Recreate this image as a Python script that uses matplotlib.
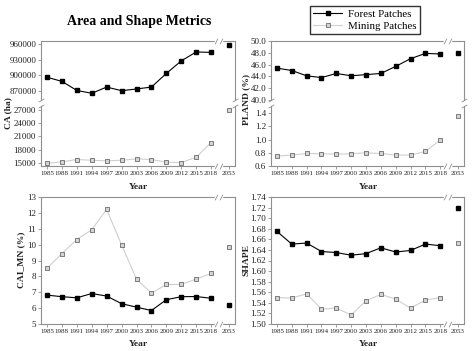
import matplotlib.pyplot as plt
import numpy as np

plt.rcParams["font.family"] = "serif"
plt.rcParams["font.serif"] = ["Liberation Serif", "DejaVu Serif"]

years = ["1985", "1988", "1991", "1994", "1997", "2000", "2003",
         "2006", "2009", "2012", "2015", "2018", "2053"]

ca_forest = [896000, 888000, 870500, 865000, 877000, 870000, 873300,
             877000, 903300, 927600, 944800, 944000, 958700]
ca_mining = [14920, 15230, 15770, 15600, 15460, 15600, 15920,
             15770, 15150, 15080, 16300, 19600, 27080]

pland_forest = [45.4, 45.0, 44.1, 43.8, 44.5, 44.1, 44.3,
                44.5, 45.7, 47.0, 47.9, 47.8, 47.9]
pland_mining = [0.75, 0.765, 0.79, 0.785, 0.78, 0.785, 0.80,
                0.79, 0.765, 0.765, 0.82, 0.995, 1.355]

cai_forest = [6.82, 6.72, 6.65, 6.92, 6.76, 6.28, 6.06,
              5.85, 6.53, 6.72, 6.73, 6.62, 6.22]
cai_mining = [8.51, 9.43, 10.32, 10.94, 12.22, 9.98, 7.83,
              6.94, 7.49, 7.49, 7.83, 8.19, 9.83]

shape_forest = [1.675, 1.651, 1.653, 1.637, 1.635, 1.630, 1.633,
                1.644, 1.636, 1.639, 1.651, 1.648, 1.719]
shape_mining = [1.550, 1.549, 1.557, 1.528, 1.530, 1.517, 1.544,
                1.556, 1.547, 1.530, 1.545, 1.550, 1.653]

W, H = 474, 351
GRAY = "#8f8f8f"
TXT = "#222222"
XPOS = np.r_[np.arange(12), 12.2]  # 2053 sits after the x break
XBREAK = 11.5
XLIM = (-0.4, 12.6)

fig = plt.figure(figsize=(W / 100, H / 100), dpi=100)


def px_axes(x0, y0, x1, y1):
    return fig.add_axes([x0 / W, 1 - y1 / H, (x1 - x0) / W, (y1 - y0) / H])


def style(ax, yticks, fmt):
    for s in ax.spines.values():
        s.set_color(GRAY)
        s.set_linewidth(0.8)
    ax.set_xlim(*XLIM)
    ax.set_yticks(yticks)
    ax.set_yticklabels([fmt.format(v) for v in yticks], fontsize=6.5, color=TXT)
    ax.tick_params(axis="both", direction="out", length=2, width=0.6,
                   color=GRAY, pad=1.5)
    ax.set_xticks(XPOS)
    ax.set_xticklabels(years, fontsize=5.0, color=TXT)


def draw_series(ax, forest, mining):
    ax.plot(XPOS[:-1], forest[:-1], color="black", lw=0.8, marker="s",
            ms=3.4, mfc="black", mec="black", zorder=3, label="Forest Patches")
    ax.plot(XPOS[-1:], forest[-1:], ls="none", marker="s", ms=3.4,
            mfc="black", mec="black", zorder=3)
    ax.plot(XPOS[:-1], mining[:-1], color="#cfcfcf", lw=0.8, marker="s",
            ms=3.4, mfc="#d4d4d4", mec="#6a6a6a", mew=0.6, zorder=3,
            label="Mining Patches")
    ax.plot(XPOS[-1:], mining[-1:], ls="none", marker="s", ms=3.4,
            mfc="#d4d4d4", mec="#6a6a6a", mew=0.6, zorder=3)


def xbreak(ax, yaxes):
    tr = ax.get_xaxis_transform()
    ax.plot([XBREAK - 0.15, XBREAK + 0.15], [yaxes, yaxes], transform=tr,
            color="white", lw=2.5, clip_on=False, zorder=5)
    ax.plot([XBREAK - 0.15, XBREAK + 0.15], [yaxes, yaxes], transform=tr,
            ls="none", marker=[(-0.5, -1), (0.5, 1)], ms=4, mew=0.6,
            color=GRAY, clip_on=False, zorder=6)


def ybreak(ax, yaxes):
    ax.plot([0, 1], [yaxes, yaxes], transform=ax.transAxes, ls="none",
            marker=[(-1, -0.6), (1, 0.6)], ms=4, mew=0.6, color=GRAY,
            clip_on=False, zorder=6)


def broken_panel(x0, x1, yt, ymid0, ymid1, yb, forest, mining,
                 up_lim, up_ticks, lo_lim, lo_ticks, fmt):
    up = px_axes(x0, yt, x1, ymid0)
    lo = px_axes(x0, ymid1, x1, yb)
    draw_series(up, forest, mining)
    draw_series(lo, forest, mining)
    style(up, up_ticks, fmt)
    style(lo, lo_ticks, fmt)
    up.set_ylim(*up_lim)
    lo.set_ylim(*lo_lim)
    up.spines["bottom"].set_visible(False)
    lo.spines["top"].set_visible(False)
    up.tick_params(axis="x", bottom=False, labelbottom=False)
    xbreak(up, 1)
    xbreak(lo, 0)
    ybreak(up, 0)
    ybreak(lo, 1)
    return up, lo


def single_panel(x0, x1, yt, yb, forest, mining, lim, ticks, fmt):
    ax = px_axes(x0, yt, x1, yb)
    draw_series(ax, forest, mining)
    style(ax, ticks, fmt)
    ax.set_ylim(*lim)
    xbreak(ax, 1)
    xbreak(ax, 0)
    return ax


# top left: CA
up, lo = broken_panel(41, 235, 41, 100, 106, 166, ca_forest, ca_mining,
                      (852000, 966000), [870000, 900000, 930000, 960000],
                      (14300, 27900), [15000, 18000, 21000, 24000, 27000],
                      "{:.0f}")

# top right: PLAND
broken_panel(271, 464, 41, 100, 106, 166, pland_forest, pland_mining,
             (40, 50), [40, 42, 44, 46, 48, 50],
             (0.6, 1.51), [0.6, 0.8, 1.0, 1.2, 1.4], "{:.1f}")

# bottom left: CAI_MN
single_panel(41, 235, 197, 324, cai_forest, cai_mining,
             (5, 13), list(range(5, 14)), "{:.0f}")

# bottom right: SHAPE
single_panel(271, 464, 197, 324, shape_forest, shape_mining,
             (1.50, 1.74), list(np.round(np.arange(1.50, 1.741, 0.02), 2)),
             "{:.2f}")

lab = dict(fontsize=6.8, fontweight="bold", color=TXT, ha="center", va="center")
fig.text(8 / W, 1 - 113 / H, "CA (ha)", rotation=90, **lab)
fig.text(246 / W, 1 - 100 / H, "PLAND (%)", rotation=90, **lab)
fig.text(21 / W, 1 - 260 / H, "CAI_MN (%)", rotation=90, **lab)
fig.text(246 / W, 1 - 260 / H, "SHAPE", rotation=90, **lab)
for xc, yc in [(138, 187), (368, 187), (138, 344), (368, 344)]:
    fig.text(xc / W, 1 - yc / H, "Year", **lab)

fig.text(139 / W, 1 - 21 / H, "Area and Shape Metrics", fontsize=10,
         fontweight="bold", ha="center", va="center", color="black")

handles, labels = up.get_legend_handles_labels()
fig.legend(handles, labels, loc="center", bbox_to_anchor=(365 / W, 1 - 20 / H),
           fontsize=7.8, frameon=True, fancybox=False, edgecolor="black",
           handlelength=2.6, borderpad=0.3, labelspacing=0.2, handletextpad=0.6,
           borderaxespad=0)

fig.savefig("out.png", dpi=100)
